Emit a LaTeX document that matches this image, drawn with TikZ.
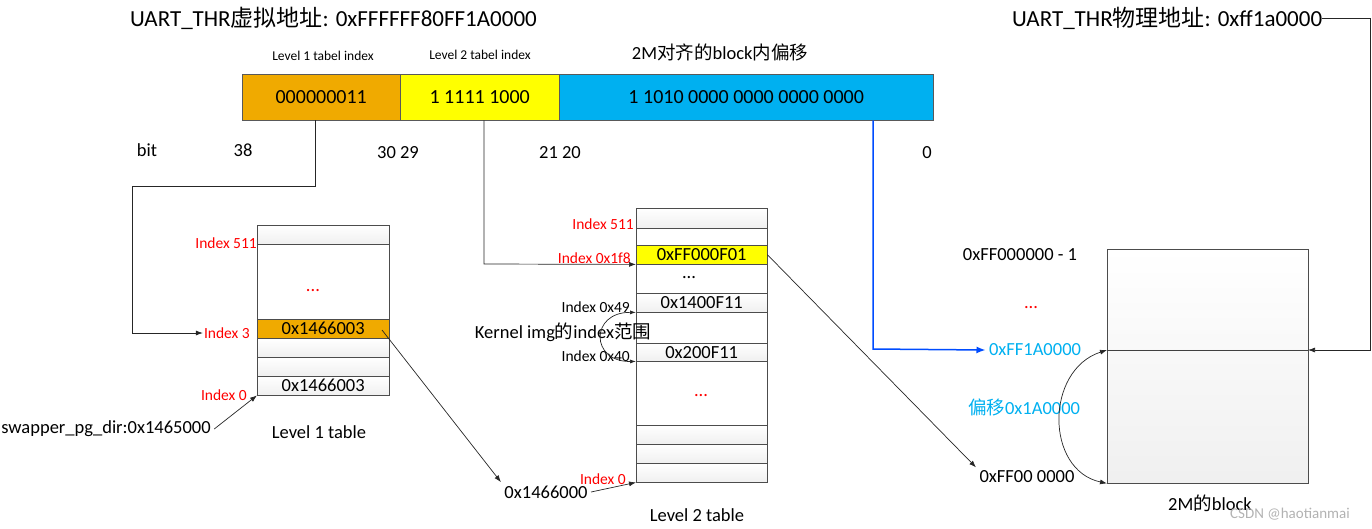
\documentclass[tikz,border=0pt]{standalone}
\usepackage{fontspec}
\setmainfont{Carlito}
\newfontfamily\cjk{Noto Sans CJK SC}
\usetikzlibrary{arrows.meta}
\definecolor{orng}{RGB}{240,170,0}
\definecolor{ylw}{RGB}{255,255,0}
\definecolor{blu}{RGB}{0,176,240}
\definecolor{cyn}{RGB}{0,176,240}
\begin{document}
\begin{tikzpicture}[x=1pt,y=-1pt,
  every node/.style={font=\fontsize{18.5}{20}\selectfont},
  seg/.style={draw=gray!70!black,minimum height=46,inner sep=0,anchor=north west},
  row/.style={draw=gray!60!black,top color=white,bottom color=gray!12,minimum width=132,inner sep=0,anchor=north west},
  row2/.style={row,minimum width=131},
  idx/.style={red,font=\fontsize{15.5}{17}\selectfont,anchor=east,inner sep=1},
  idxb/.style={idx,black},
  small/.style={font=\fontsize{13.5}{15}\selectfont},
  lbl/.style={anchor=west,inner sep=0},
  conn/.style={draw=gray!30!black,line width=0.7,-{Latex[length=7,width=5]}},
  thin/.style={draw=gray!30!black,line width=0.7}]
\useasboundingbox (0,0) rectangle (1372,528);
% titles
\node[lbl,font=\fontsize{23}{25}\selectfont] (vt) at (130,18) {UART\_THR{\cjk 虚拟地址}: 0xFFFFFF80FF1A0000};
\node[lbl,font=\fontsize{23}{25}\selectfont] (pt) at (1012,18) {UART\_THR{\cjk 物理地址}: 0xff1a0000};
% bar
\node[seg,fill=orng,minimum width=158,font=\fontsize{20}{22}\selectfont] (b1) at (242,74) {000000011};
\node[seg,fill=ylw,minimum width=159,font=\fontsize{20}{22}\selectfont] (b2) at (400,74) {1 1111 1000};
\node[seg,fill=blu,minimum width=374,font=\fontsize{20}{22}\selectfont] (b3) at (559,74) {1 1010 0000 0000 0000 0000};
\node[small] (l1) at (323,56) {Level 1 tabel index};
\node[small] (l2) at (480,55) {Level 2 tabel index};
\node (l3) at (720,52) {2M{\cjk 对齐的}block{\cjk 内偏移}};
\node (bit) at (147,150) {bit};
\node (n38) at (243,150) {38};
\node (n30) at (398,153) {30\ 29};
\node (n21) at (560,153) {21\ 20};
\node (n0) at (927,153) {0};
% level 1 table
\node[row,minimum height=19] (a1) at (257,225) {};
\node[row,minimum height=75,top color=white,bottom color=white] (a2) at (257,244) {};
\node[red] (ad) at (313,291) {...};
\node[row,minimum height=19,top color=orng,bottom color=orng] (a3) at (257,319) {0x1466003};
\node[row,minimum height=19] (a4) at (257,338) {};
\node[row,minimum height=19] (a5) at (257,357) {};
\node[row,minimum height=19] (a6) at (257,376) {0x1466003};
\node[idx] (i511) at (258,243) {Index 511};
\node[idx] (i3) at (251,333) {Index 3};
\node[idx] (i0) at (248,395) {Index 0};
\node (sw) at (106,429) {swapper\_pg\_dir:0x1465000};
\node (t1) at (319,432) {Level 1 table};
% level 2 table
\node[row2,minimum height=20] (c1) at (636,208) {};
\node[row2,minimum height=17,top color=white,bottom color=white] (c2) at (636,228) {};
\node[row2,minimum height=19,top color=ylw,bottom color=ylw] (c3) at (636,245) {0xFF000F01};
\node[row2,minimum height=29,top color=white,bottom color=white] (c4) at (636,264) {};
\node (cd1) at (689,278) {...};
\node[row2,minimum height=19] (c5) at (636,293) {0x1400F11};
\node[row2,minimum height=31,top color=white,bottom color=white] (c6) at (636,312) {};
\node[row2,minimum height=18] (c7) at (636,343) {0x200F11};
\node[row2,minimum height=64,top color=white,bottom color=white] (c8) at (636,361) {};
\node[red] (cd2) at (701,396) {...};
\node[row2,minimum height=19] (c9) at (636,425) {};
\node[row2,minimum height=19] (c10) at (636,444) {};
\node[row2,minimum height=19] (c11) at (636,463) {};
\node[idx] (j511) at (635,224) {Index 511};
\node[idx] (j1f8) at (632,258) {Index 0x1f8};
\node[idxb] (j49) at (631,307) {Index 0x49};
\node[idxb] (j40) at (631,356) {Index 0x40};
\node[idx] (j0) at (627,479) {Index 0};
\node (ki) at (563,332) {Kernel img{\cjk 的}index{\cjk 范围}};
\node (a66) at (546,492) {0x1466000};
\node (t2) at (697,515) {Level 2 table};
% block
\node[draw=gray!60!black,top color=white,bottom color=gray!12,minimum width=201,minimum height=234,inner sep=0,anchor=north west] (blk) at (1107,249) {};
\coordinate (bm) at (1107,350);
\coordinate (bmr) at (1308,350);
\draw[gray!50!black] (bm) -- (bmr);
\node (ffm) at (1020,255) {0xFF000000 - 1};
\node[red] (bd) at (1031,308) {...};
\node[cyn] (ff1a) at (1035,350) {0xFF1A0000};
\node[cyn] (off) at (1024,407) {{\cjk 偏移}0x1A0000};
\node (ff00) at (1027,477) {0xFF00 0000};
\node (t3) at (1210,503) {2M{\cjk 的}block};
\node[gray!60,font=\fontsize{15}{17}\selectfont] (wm) at (1290,514) {CSDN @haotianmai};
% connectors
\coordinate (p1) at (315,186);
\coordinate (p2) at (132,186);
\coordinate (p3) at (132,333);
\draw[conn] (b1.south -| p1) -- (p1) -- (p2) -- (p3) -- (i3.west);
\coordinate (q1) at (484,264);
\draw[conn] (b2.south -| q1) -- (q1) -- (c3.south west);
\coordinate (r1) at (873,349);
\draw[draw=blue!70!cyan,line width=1.5,-{Latex[length=9,width=7]}] (b3.south -| r1) -- (r1) -- (ff1a.west);
\coordinate (s1) at (1370,18);
\coordinate (s2) at (1370,350);
\draw[conn] (pt.east) -- (s1) -- (s2) -- (bmr);
\draw[conn] (sw.east) -- (a6.south west);
\draw[conn] (382,330) -- (a66.north west);
\draw[conn] (a66.east) -- (c11.south west);
\draw[conn] (c3.east) -- (ff00.north west);
\draw[thin,{Latex[length=6,width=4]}-{Latex[length=6,width=4]}] (c5.south west) .. controls (590,312) and (590,362) .. (c7.south west);
\draw[thin,{Latex[length=7,width=5]}-{Latex[length=7,width=5]}] (bm) .. controls (1045,370) and (1045,470) .. (blk.south west);
\end{tikzpicture}
\end{document}
